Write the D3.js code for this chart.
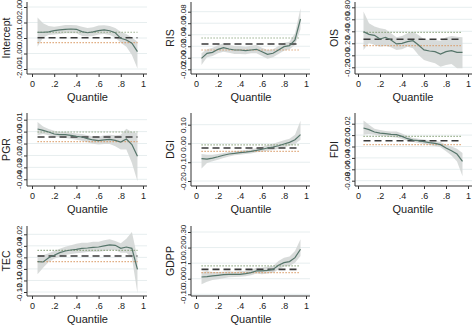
<!DOCTYPE html>
<html>
<head>
<meta charset="utf-8">
<script src="https://cdn.jsdelivr.net/npm/d3@7"></script>
<style>
body { margin: 0; background: #fff; }
svg { display: block; font-family: "Liberation Sans", Arial, sans-serif; }
</style>
</head>
<body>
<div id="chart"></div>
<script>
// quantiles estimated
var quantiles = [0.05,0.10,0.15,0.20,0.25,0.30,0.35,0.40,0.45,0.50,0.55,0.60,0.65,0.70,0.75,0.80,0.85,0.90,0.95];
var varNames = ["Intercept","RIS","OIS","PGR","DGI","FDI","TEC","GDPP"];
var xTicks = [0,0.2,0.4,0.6,0.8,1];
var xTickLabels = ["0",".2",".4",".6",".8","1"];
var yTicks = [
    [-2,-1,0,1,2],
    [-0.02,0,0.02,0.04,0.06,0.08],
    [-0.2,0,0.2,0.4,0.6,0.8],
    [-0.04,-0.03,-0.02,-0.01,0,0.01],
    [-0.2,-0.1,0,0.1],
    [-0.08,-0.06,-0.04,-0.02,0,0.02],
    [-0.12,-0.10,-0.08,-0.06,-0.04,-0.02],
    [-0.1,0,0.1,0.2,0.3]
];

// OLS estimate and its confidence interval, one per variable
var olsCoef = [0.02, 0.0239, 0.267, -0.0045, -0.024, -0.0098, -0.0576, 0.060];
var olsHi   = [0.37, 0.0343, 0.383, -0.0003, -0.007, -0.0022, -0.0477, 0.082];
var olsLo   = [-0.30, 0.0135, 0.161, -0.0084, -0.042, -0.0168, -0.0674, 0.039];

// quantile regression coefficients with 95% band
var interceptCoef = [0.37,0.37,0.40,0.47,0.52,0.56,0.58,0.56,0.41,0.34,0.39,0.47,0.52,0.47,0.34,-0.02,-0.13,-0.34,-0.88];
var interceptHi   = [1.33,0.95,0.77,0.73,0.77,0.84,0.84,0.82,0.73,0.65,0.69,0.80,0.82,0.77,0.65,0.41,0.26,0.04,-0.24];
var interceptLo   = [-0.56,0.04,0.19,0.22,0.26,0.30,0.30,0.30,0.13,0.09,0.13,0.22,0.26,0.19,0.04,-0.30,-0.56,-1.10,-1.96];

var risCoef = [-0.001,0.0078,0.0095,0.0147,0.0176,0.0153,0.0135,0.0135,0.0124,0.0135,0.0147,0.0106,0.0060,0.0078,0.0135,0.0193,0.0210,0.0309,0.0673];
var risHi   = [0.0078,0.0147,0.0176,0.0216,0.0251,0.0222,0.0205,0.0205,0.0193,0.0210,0.0222,0.0176,0.0135,0.0147,0.0205,0.0262,0.0280,0.0424,0.0858];
var risLo   = [-0.0125,0.0008,0.0031,0.0078,0.0106,0.0089,0.0066,0.0066,0.0060,0.0078,0.0078,0.0031,-0.0015,0.0008,0.0066,0.0124,0.0147,0.0222,0.0494];

var oisCoef = [0.394,0.350,0.333,0.272,0.300,0.256,0.189,0.200,0.228,0.244,0.172,0.089,0.072,0.061,0.022,0.061,0.078,0.050,0.050];
var oisHi   = [0.728,0.533,0.478,0.450,0.433,0.367,0.300,0.322,0.367,0.394,0.339,0.267,0.256,0.256,0.244,0.300,0.322,0.311,0.300];
var oisLo   = [0.089,0.211,0.172,0.144,0.156,0.133,0.089,0.100,0.144,0.117,0.006,-0.078,-0.106,-0.133,-0.189,-0.161,-0.144,-0.217,-0.217];

var pgrCoef = [0.0022,0.0011,-0.0003,-0.0020,-0.0026,-0.0026,-0.0031,-0.0040,-0.0045,-0.0059,-0.0070,-0.0076,-0.0070,-0.0065,-0.0073,-0.0087,-0.0062,-0.0109,-0.0207];
var pgrHi   = [0.0080,0.0044,0.0022,0.0008,-0.0003,-0.0003,-0.0009,-0.0015,-0.0020,-0.0031,-0.0040,-0.0042,-0.0031,-0.0026,-0.0031,-0.0026,0.0025,-0.0003,-0.0012];
var pgrLo   = [-0.0031,-0.0020,-0.0031,-0.0048,-0.0048,-0.0054,-0.0059,-0.0068,-0.0076,-0.0090,-0.0101,-0.0109,-0.0104,-0.0104,-0.0123,-0.0151,-0.0151,-0.0263,-0.0417];

var dgiCoef = [-0.081,-0.083,-0.078,-0.071,-0.063,-0.056,-0.053,-0.049,-0.046,-0.042,-0.037,-0.031,-0.024,-0.019,-0.012,-0.003,0.006,0.020,0.047];
var dgiHi   = [-0.056,-0.060,-0.060,-0.056,-0.051,-0.046,-0.042,-0.039,-0.035,-0.031,-0.024,-0.017,-0.008,-0.001,0.008,0.017,0.025,0.047,0.121];
var dgiLo   = [-0.134,-0.104,-0.095,-0.087,-0.078,-0.069,-0.063,-0.060,-0.056,-0.053,-0.047,-0.044,-0.039,-0.035,-0.028,-0.021,-0.012,-0.003,0.020];

var fdiCoef = [0.0124,0.0095,0.0054,0.0036,0.0025,0.0013,0.0007,-0.0022,-0.0063,-0.0087,-0.0098,-0.0116,-0.0133,-0.0145,-0.0168,-0.0227,-0.0274,-0.0332,-0.0461];
var fdiHi   = [0.0258,0.0182,0.0112,0.0089,0.0071,0.0065,0.0065,0.0030,-0.0016,-0.0051,-0.0063,-0.0075,-0.0092,-0.0098,-0.0122,-0.0168,-0.0198,-0.0239,-0.0315];
var fdiLo   = [0.0007,0.0019,0.0007,-0.0011,-0.0022,-0.0034,-0.0040,-0.0069,-0.0104,-0.0122,-0.0139,-0.0157,-0.0174,-0.0192,-0.0215,-0.0285,-0.0356,-0.0461,-0.0724];

var tecCoef = [-0.0674,-0.0680,-0.0605,-0.0564,-0.0518,-0.0489,-0.0472,-0.0460,-0.0443,-0.0437,-0.0425,-0.0420,-0.0402,-0.0385,-0.0391,-0.0443,-0.0420,-0.0443,-0.0807];
var tecHi   = [-0.0564,-0.0564,-0.0529,-0.0489,-0.0449,-0.0414,-0.0391,-0.0362,-0.0345,-0.0345,-0.0327,-0.0327,-0.0304,-0.0287,-0.0316,-0.0356,-0.0275,-0.0160,-0.0605];
var tecLo   = [-0.0894,-0.0778,-0.0680,-0.0622,-0.0587,-0.0558,-0.0541,-0.0529,-0.0518,-0.0506,-0.0501,-0.0501,-0.0489,-0.0477,-0.0472,-0.0518,-0.0518,-0.0605,-0.1223];

var gdppCoef = [0.011,0.013,0.018,0.022,0.026,0.028,0.028,0.028,0.033,0.039,0.050,0.050,0.054,0.060,0.086,0.103,0.110,0.135,0.189];
var gdppHi   = [0.043,0.050,0.043,0.043,0.045,0.048,0.045,0.048,0.052,0.060,0.071,0.071,0.078,0.082,0.114,0.135,0.142,0.178,0.253];
var gdppLo   = [-0.036,-0.019,-0.008,-0.004,0.003,0.009,0.011,0.013,0.016,0.022,0.033,0.028,0.033,0.039,0.060,0.078,0.082,0.103,0.146];

var coefs = [interceptCoef, risCoef, oisCoef, pgrCoef, dgiCoef, fdiCoef, tecCoef, gdppCoef];
var his = [interceptHi, risHi, oisHi, pgrHi, dgiHi, fdiHi, tecHi, gdppHi];
var los = [interceptLo, risLo, oisLo, pgrLo, dgiLo, fdiLo, tecLo, gdppLo];

// layout of the 3x3 grid
var width = 474, height = 326;
var colAxis = [27, 191, 355];
var colX0 = [32, 196, 358];
var colX1 = [143, 306, 468];
var rowTop = [2, 113, 226];
var rowBottom = [74, 186, 296];
// pixel rows of the lowest and highest y tick in each panel
var tickPx = [[69,7],[69.3,11.7],[67.3,7.3],[179.3,119.7],[181,124.7],[180.7,123.7],[292,234.3],[294.3,232]];

var svg = d3.select("#chart").append("svg")
    .attr("width", width)
    .attr("height", height);

var fmt = function(d){ return d3.format(".2f")(d).replace("\u2212", "-"); };

varNames.forEach(function(name, i){
    var col = i % 3, row = Math.floor(i / 3);
    var left = colAxis[col], right = colX1[col] + 4;
    var top = rowTop[row], bottom = rowBottom[row];
    var t = yTicks[i];

    var x = d3.scaleLinear().domain([0, 1]).range([colX0[col], colX1[col]]);
    var y = d3.scaleLinear().domain([t[0], t[t.length - 1]]).range(tickPx[i]);

    var g = svg.append("g").attr("class", "panel");

    // gridlines
    g.selectAll(".grid").data(t).enter().append("line")
        .attr("x1", left).attr("x2", right)
        .attr("y1", function(d){ return y(d); })
        .attr("y2", function(d){ return y(d); })
        .style("stroke", "#e7eeef")
        .style("stroke-width", 1);

    // confidence band
    var area = d3.area()
        .x(function(d, k){ return x(quantiles[k]); })
        .y0(function(d, k){ return y(los[i][k]); })
        .y1(function(d, k){ return y(his[i][k]); });
    g.append("path").datum(coefs[i])
        .attr("d", area)
        .style("fill", "#d4d7d6")
        .style("opacity", 0.9);

    // OLS estimate and interval
    var xa = x(quantiles[0]), xb = x(quantiles[quantiles.length - 1]);
    g.append("line")
        .attr("x1", xa).attr("x2", xb)
        .attr("y1", y(olsHi[i])).attr("y2", y(olsHi[i]))
        .style("stroke", "#7f9b6f").style("stroke-width", 1.2)
        .style("stroke-dasharray", "1.2,1.8");
    g.append("line")
        .attr("x1", xa).attr("x2", xb)
        .attr("y1", y(olsLo[i])).attr("y2", y(olsLo[i]))
        .style("stroke", "#d8955e").style("stroke-width", 1.2)
        .style("stroke-dasharray", "1.2,1.8");
    g.append("line")
        .attr("x1", xa).attr("x2", xb)
        .attr("y1", y(olsCoef[i])).attr("y2", y(olsCoef[i]))
        .style("stroke", "#3a3a3a").style("stroke-width", 1.6)
        .style("stroke-dasharray", "7,4");

    // quantile coefficients
    var line = d3.line()
        .x(function(d, k){ return x(quantiles[k]); })
        .y(function(d){ return y(d); });
    g.append("path").datum(coefs[i])
        .attr("d", line)
        .style("fill", "none")
        .style("stroke", "#56756a")
        .style("stroke-width", 1.2);

    // axes
    var yAxis = g.append("g")
        .attr("transform", "translate(" + left + ",0)")
        .call(d3.axisLeft(y).tickValues(t).tickFormat(fmt).tickSize(3).tickSizeOuter(0));
    yAxis.select(".domain").remove();
    yAxis.selectAll("text")
        .attr("transform", "rotate(-90)")
        .attr("text-anchor", "middle")
        .attr("x", 0).attr("y", -5).attr("dy", 0)
        .style("font-size", "8px").style("fill", "#222");
    yAxis.selectAll("line").style("stroke", "#333");
    g.append("line")
        .attr("x1", left).attr("x2", left)
        .attr("y1", top).attr("y2", bottom)
        .style("stroke", "#333").style("stroke-width", 1);

    var xAxis = g.append("g")
        .attr("transform", "translate(0," + bottom + ")")
        .call(d3.axisBottom(x).tickValues(xTicks)
            .tickFormat(function(d, k){ return xTickLabels[k]; })
            .tickSize(3).tickSizeOuter(0));
    xAxis.select(".domain").remove();
    xAxis.selectAll("text").attr("y", 6.5)
        .style("font-size", "9px").style("fill", "#222");
    xAxis.selectAll("line").style("stroke", "#333");
    g.append("line")
        .attr("x1", left).attr("x2", right)
        .attr("y1", bottom).attr("y2", bottom)
        .style("stroke", "#333").style("stroke-width", 1);

    // titles
    g.append("text")
        .attr("transform", "translate(" + (left - 17) + "," + ((top + bottom) / 2) + ") rotate(-90)")
        .attr("text-anchor", "middle")
        .style("font-size", "10.5px").style("fill", "#222")
        .text(name);
    g.append("text")
        .attr("x", (colX0[col] + colX1[col]) / 2)
        .attr("y", bottom + 27)
        .attr("text-anchor", "middle")
        .style("font-size", "11px").style("fill", "#222")
        .text("Quantile");
});
</script>
</body>
</html>
